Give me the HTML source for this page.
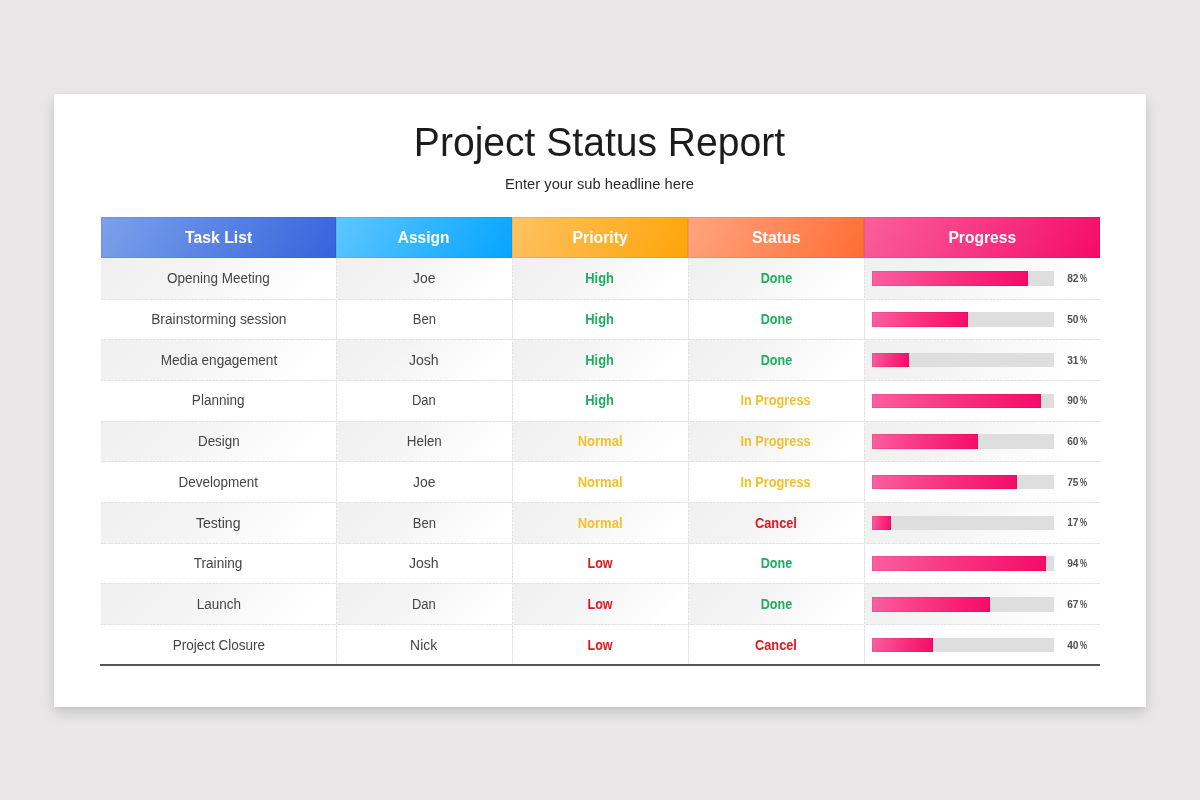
<!DOCTYPE html>
<html><head><meta charset="utf-8"><title>Project Status Report</title>
<style>
html,body{margin:0;padding:0;}
body{width:1200px;height:800px;overflow:hidden;background:#e9e7e7;font-family:"Liberation Sans",sans-serif;position:relative;}
.card{position:absolute;left:54px;top:94px;width:1092px;height:613px;background:#fff;box-shadow:0 6px 13px rgba(0,0,0,0.15),0 1px 3px rgba(0,0,0,0.05);}
.a{position:absolute;}
.c{position:absolute;text-align:center;white-space:nowrap;}
.t{display:inline-block;transform-origin:50% 50%;}
.h{color:#fff;font-weight:bold;font-size:17.2px;box-shadow:inset 0 0 0 1px rgba(0,0,40,0.07);}
.d{color:#454545;font-size:14px;}
.b{font-weight:bold;font-size:14px;}
.p{color:#505050;font-size:10.2px;font-weight:bold;text-align:left;}
.pc{display:inline-block;transform:scaleX(0.78);transform-origin:0 50%;margin-left:1.5px;}
.g{background:linear-gradient(135deg,#f0f0f0 0%,#f3f3f3 35%,#f8f8f8 55%,#ffffff 85%);}
.hl{height:1px;background:repeating-linear-gradient(90deg,#e0e0e0 0,#e0e0e0 2px,#f0f0f0 2px,#f0f0f0 3.5px);}
.vl{width:1px;background:repeating-linear-gradient(180deg,#e0e0e0 0,#e0e0e0 2px,#f0f0f0 2px,#f0f0f0 3.5px);}
.tr{background:#dedede;}
.fl{background:linear-gradient(100deg,#fb5fa0 0%,#f8327f 50%,#f50b68 100%);box-shadow:inset 0 0 0 1px rgba(150,0,50,0.10);}
</style></head><body>
<div class="card"></div>
<div id="L" style="position:absolute;left:0;top:0;width:1200px;height:800px;will-change:transform;">

<div class="c" style="left:298.4px;width:602.6px;top:116.8px;height:50px;line-height:50px;font-size:40.5px;color:#1c1c1c;"><span class="t" style="transform:scaleX(0.9643)">Project Status Report</span></div>
<div class="c" style="left:299.6px;width:599.4px;top:172px;height:24px;line-height:24px;font-size:15.5px;color:#2a2a2a;"><span class="t" style="transform:scaleX(0.9494)">Enter your sub headline here</span></div>
<div class="c h" style="left:101px;width:235.0px;top:217.3px;height:41.0px;line-height:41.0px;background:linear-gradient(120deg,#7ca1ea 0%,#5882e3 50%,#3564dc 100%);"><span class="t" style="transform:scaleX(0.9183);">Task List</span></div>
<div class="c h" style="left:336px;width:176.0px;top:217.3px;height:41.0px;line-height:41.0px;background:linear-gradient(120deg,#5fc6ff 0%,#32b5ff 50%,#06a4ff 100%);"><span class="t" style="transform:scaleX(0.9024);">Assign</span></div>
<div class="c h" style="left:512px;width:176.0px;top:217.3px;height:41.0px;line-height:41.0px;background:linear-gradient(120deg,#fdc364 0%,#feb336 50%,#ffa408 100%);"><span class="t" style="transform:scaleX(0.9182);">Priority</span></div>
<div class="c h" style="left:688px;width:176.0px;top:217.3px;height:41.0px;line-height:41.0px;background:linear-gradient(120deg,#ffa57f 0%,#ff8959 50%,#ff6d33 100%);"><span class="t" style="transform:scaleX(0.9221);">Status</span></div>
<div class="c h" style="left:864px;width:236.4px;top:217.3px;height:41.0px;line-height:41.0px;background:linear-gradient(120deg,#fa5f9c 0%,#f73683 50%,#f50b68 100%);"><span class="t" style="transform:scaleX(0.9080);">Progress</span></div>
<div class="a g" style="left:101px;width:235.0px;top:258.3px;height:40.7px;"></div>
<div class="a g" style="left:336px;width:176.0px;top:258.3px;height:40.7px;"></div>
<div class="a g" style="left:512px;width:176.0px;top:258.3px;height:40.7px;"></div>
<div class="a g" style="left:688px;width:176.0px;top:258.3px;height:40.7px;"></div>
<div class="a g" style="left:864px;width:236.4px;top:258.3px;height:40.7px;"></div>
<div class="c d" style="left:101px;width:235.0px;top:258.3px;height:40.7px;line-height:40.7px;"><span class="t" style="transform:scaleX(0.9638);">Opening Meeting</span></div>
<div class="c d" style="left:336px;width:176.0px;top:258.3px;height:40.7px;line-height:40.7px;"><span class="t" style="transform:scaleX(0.9952);">Joe</span></div>
<div class="c b" style="left:512px;width:176.0px;top:258.3px;height:40.7px;line-height:40.7px;color:#1fad5e;"><span class="t" style="transform:scaleX(0.9196);">High</span></div>
<div class="c b" style="left:688px;width:176.0px;top:258.3px;height:40.7px;line-height:40.7px;color:#1fad5e;"><span class="t" style="transform:scaleX(0.9000);">Done</span></div>
<div class="a tr" style="left:872px;width:181.8px;top:271.4px;height:14.6px;"></div>
<div class="a fl" style="left:872px;width:155.7px;top:271.4px;height:14.6px;"></div>
<div class="c p" style="left:1067.2px;width:40px;top:259.2px;height:40.7px;line-height:40.7px;">82<span class="pc">%</span></div>
<div class="c d" style="left:101px;width:235.0px;top:299.0px;height:40.7px;line-height:40.7px;"><span class="t" style="transform:scaleX(0.9826);">Brainstorming session</span></div>
<div class="c d" style="left:336px;width:176.0px;top:299.0px;height:40.7px;line-height:40.7px;"><span class="t" style="transform:scaleX(0.9304);">Ben</span></div>
<div class="c b" style="left:512px;width:176.0px;top:299.0px;height:40.7px;line-height:40.7px;color:#1fad5e;"><span class="t" style="transform:scaleX(0.9196);">High</span></div>
<div class="c b" style="left:688px;width:176.0px;top:299.0px;height:40.7px;line-height:40.7px;color:#1fad5e;"><span class="t" style="transform:scaleX(0.9000);">Done</span></div>
<div class="a tr" style="left:872px;width:181.8px;top:312.1px;height:14.6px;"></div>
<div class="a fl" style="left:872px;width:96.3px;top:312.1px;height:14.6px;"></div>
<div class="c p" style="left:1067.2px;width:40px;top:299.9px;height:40.7px;line-height:40.7px;">50<span class="pc">%</span></div>
<div class="a g" style="left:101px;width:235.0px;top:339.7px;height:40.7px;"></div>
<div class="a g" style="left:336px;width:176.0px;top:339.7px;height:40.7px;"></div>
<div class="a g" style="left:512px;width:176.0px;top:339.7px;height:40.7px;"></div>
<div class="a g" style="left:688px;width:176.0px;top:339.7px;height:40.7px;"></div>
<div class="a g" style="left:864px;width:236.4px;top:339.7px;height:40.7px;"></div>
<div class="c d" style="left:101px;width:235.0px;top:339.7px;height:40.7px;line-height:40.7px;"><span class="t" style="transform:scaleX(0.9723);">Media engagement</span></div>
<div class="c d" style="left:336px;width:176.0px;top:339.7px;height:40.7px;line-height:40.7px;"><span class="t" style="transform:scaleX(1.0063);">Josh</span></div>
<div class="c b" style="left:512px;width:176.0px;top:339.7px;height:40.7px;line-height:40.7px;color:#1fad5e;"><span class="t" style="transform:scaleX(0.9196);">High</span></div>
<div class="c b" style="left:688px;width:176.0px;top:339.7px;height:40.7px;line-height:40.7px;color:#1fad5e;"><span class="t" style="transform:scaleX(0.9000);">Done</span></div>
<div class="a tr" style="left:872px;width:181.8px;top:352.8px;height:14.6px;"></div>
<div class="a fl" style="left:872px;width:37.4px;top:352.8px;height:14.6px;"></div>
<div class="c p" style="left:1067.2px;width:40px;top:340.6px;height:40.7px;line-height:40.7px;">31<span class="pc">%</span></div>
<div class="c d" style="left:101px;width:235.0px;top:380.4px;height:40.7px;line-height:40.7px;"><span class="t" style="transform:scaleX(0.9682);">Planning</span></div>
<div class="c d" style="left:336px;width:176.0px;top:380.4px;height:40.7px;line-height:40.7px;"><span class="t" style="transform:scaleX(0.9276);">Dan</span></div>
<div class="c b" style="left:512px;width:176.0px;top:380.4px;height:40.7px;line-height:40.7px;color:#1fad5e;"><span class="t" style="transform:scaleX(0.9196);">High</span></div>
<div class="c b" style="left:688px;width:176.0px;top:380.4px;height:40.7px;line-height:40.7px;color:#f3c02b;"><span class="t" style="transform:scaleX(0.9105);">In Progress</span></div>
<div class="a tr" style="left:872px;width:181.8px;top:393.5px;height:14.6px;"></div>
<div class="a fl" style="left:872px;width:169.25px;top:393.5px;height:14.6px;"></div>
<div class="c p" style="left:1067.2px;width:40px;top:381.3px;height:40.7px;line-height:40.7px;">90<span class="pc">%</span></div>
<div class="a g" style="left:101px;width:235.0px;top:421.1px;height:40.7px;"></div>
<div class="a g" style="left:336px;width:176.0px;top:421.1px;height:40.7px;"></div>
<div class="a g" style="left:512px;width:176.0px;top:421.1px;height:40.7px;"></div>
<div class="a g" style="left:688px;width:176.0px;top:421.1px;height:40.7px;"></div>
<div class="a g" style="left:864px;width:236.4px;top:421.1px;height:40.7px;"></div>
<div class="c d" style="left:101px;width:235.0px;top:421.1px;height:40.7px;line-height:40.7px;"><span class="t" style="transform:scaleX(0.9548);">Design</span></div>
<div class="c d" style="left:336px;width:176.0px;top:421.1px;height:40.7px;line-height:40.7px;"><span class="t" style="transform:scaleX(0.9551);">Helen</span></div>
<div class="c b" style="left:512px;width:176.0px;top:421.1px;height:40.7px;line-height:40.7px;color:#f3c02b;"><span class="t" style="transform:scaleX(0.9313);">Normal</span></div>
<div class="c b" style="left:688px;width:176.0px;top:421.1px;height:40.7px;line-height:40.7px;color:#f3c02b;"><span class="t" style="transform:scaleX(0.9105);">In Progress</span></div>
<div class="a tr" style="left:872px;width:181.8px;top:434.2px;height:14.6px;"></div>
<div class="a fl" style="left:872px;width:105.7px;top:434.2px;height:14.6px;"></div>
<div class="c p" style="left:1067.2px;width:40px;top:422.0px;height:40.7px;line-height:40.7px;">60<span class="pc">%</span></div>
<div class="c d" style="left:101px;width:235.0px;top:461.8px;height:40.7px;line-height:40.7px;"><span class="t" style="transform:scaleX(0.9642);">Development</span></div>
<div class="c d" style="left:336px;width:176.0px;top:461.8px;height:40.7px;line-height:40.7px;"><span class="t" style="transform:scaleX(0.9952);">Joe</span></div>
<div class="c b" style="left:512px;width:176.0px;top:461.8px;height:40.7px;line-height:40.7px;color:#f3c02b;"><span class="t" style="transform:scaleX(0.9313);">Normal</span></div>
<div class="c b" style="left:688px;width:176.0px;top:461.8px;height:40.7px;line-height:40.7px;color:#f3c02b;"><span class="t" style="transform:scaleX(0.9105);">In Progress</span></div>
<div class="a tr" style="left:872px;width:181.8px;top:474.9px;height:14.6px;"></div>
<div class="a fl" style="left:872px;width:145.3px;top:474.9px;height:14.6px;"></div>
<div class="c p" style="left:1067.2px;width:40px;top:462.7px;height:40.7px;line-height:40.7px;">75<span class="pc">%</span></div>
<div class="a g" style="left:101px;width:235.0px;top:502.5px;height:40.7px;"></div>
<div class="a g" style="left:336px;width:176.0px;top:502.5px;height:40.7px;"></div>
<div class="a g" style="left:512px;width:176.0px;top:502.5px;height:40.7px;"></div>
<div class="a g" style="left:688px;width:176.0px;top:502.5px;height:40.7px;"></div>
<div class="a g" style="left:864px;width:236.4px;top:502.5px;height:40.7px;"></div>
<div class="c d" style="left:101px;width:235.0px;top:502.5px;height:40.7px;line-height:40.7px;"><span class="t" style="transform:scaleX(1.0053);">Testing</span></div>
<div class="c d" style="left:336px;width:176.0px;top:502.5px;height:40.7px;line-height:40.7px;"><span class="t" style="transform:scaleX(0.9304);">Ben</span></div>
<div class="c b" style="left:512px;width:176.0px;top:502.5px;height:40.7px;line-height:40.7px;color:#f3c02b;"><span class="t" style="transform:scaleX(0.9313);">Normal</span></div>
<div class="c b" style="left:688px;width:176.0px;top:502.5px;height:40.7px;line-height:40.7px;color:#de181e;"><span class="t" style="transform:scaleX(0.9118);">Cancel</span></div>
<div class="a tr" style="left:872px;width:181.8px;top:515.6px;height:14.6px;"></div>
<div class="a fl" style="left:872px;width:19.25px;top:515.6px;height:14.6px;"></div>
<div class="c p" style="left:1067.2px;width:40px;top:503.4px;height:40.7px;line-height:40.7px;">17<span class="pc">%</span></div>
<div class="c d" style="left:101px;width:235.0px;top:543.2px;height:40.7px;line-height:40.7px;"><span class="t" style="transform:scaleX(0.9716);">Training</span></div>
<div class="c d" style="left:336px;width:176.0px;top:543.2px;height:40.7px;line-height:40.7px;"><span class="t" style="transform:scaleX(1.0063);">Josh</span></div>
<div class="c b" style="left:512px;width:176.0px;top:543.2px;height:40.7px;line-height:40.7px;color:#de181e;"><span class="t" style="transform:scaleX(0.8945);">Low</span></div>
<div class="c b" style="left:688px;width:176.0px;top:543.2px;height:40.7px;line-height:40.7px;color:#1fad5e;"><span class="t" style="transform:scaleX(0.9000);">Done</span></div>
<div class="a tr" style="left:872px;width:181.8px;top:556.3px;height:14.6px;"></div>
<div class="a fl" style="left:872px;width:173.8px;top:556.3px;height:14.6px;"></div>
<div class="c p" style="left:1067.2px;width:40px;top:544.1px;height:40.7px;line-height:40.7px;">94<span class="pc">%</span></div>
<div class="a g" style="left:101px;width:235.0px;top:583.9px;height:40.7px;"></div>
<div class="a g" style="left:336px;width:176.0px;top:583.9px;height:40.7px;"></div>
<div class="a g" style="left:512px;width:176.0px;top:583.9px;height:40.7px;"></div>
<div class="a g" style="left:688px;width:176.0px;top:583.9px;height:40.7px;"></div>
<div class="a g" style="left:864px;width:236.4px;top:583.9px;height:40.7px;"></div>
<div class="c d" style="left:101px;width:235.0px;top:583.9px;height:40.7px;line-height:40.7px;"><span class="t" style="transform:scaleX(0.9653);">Launch</span></div>
<div class="c d" style="left:336px;width:176.0px;top:583.9px;height:40.7px;line-height:40.7px;"><span class="t" style="transform:scaleX(0.9276);">Dan</span></div>
<div class="c b" style="left:512px;width:176.0px;top:583.9px;height:40.7px;line-height:40.7px;color:#de181e;"><span class="t" style="transform:scaleX(0.8945);">Low</span></div>
<div class="c b" style="left:688px;width:176.0px;top:583.9px;height:40.7px;line-height:40.7px;color:#1fad5e;"><span class="t" style="transform:scaleX(0.9000);">Done</span></div>
<div class="a tr" style="left:872px;width:181.8px;top:597.0px;height:14.6px;"></div>
<div class="a fl" style="left:872px;width:118.2px;top:597.0px;height:14.6px;"></div>
<div class="c p" style="left:1067.2px;width:40px;top:584.8px;height:40.7px;line-height:40.7px;">67<span class="pc">%</span></div>
<div class="c d" style="left:101px;width:235.0px;top:624.6px;height:40.7px;line-height:40.7px;"><span class="t" style="transform:scaleX(0.9649);">Project Closure</span></div>
<div class="c d" style="left:336px;width:176.0px;top:624.6px;height:40.7px;line-height:40.7px;"><span class="t" style="transform:scaleX(0.9925);">Nick</span></div>
<div class="c b" style="left:512px;width:176.0px;top:624.6px;height:40.7px;line-height:40.7px;color:#de181e;"><span class="t" style="transform:scaleX(0.8945);">Low</span></div>
<div class="c b" style="left:688px;width:176.0px;top:624.6px;height:40.7px;line-height:40.7px;color:#de181e;"><span class="t" style="transform:scaleX(0.9118);">Cancel</span></div>
<div class="a tr" style="left:872px;width:181.8px;top:637.7px;height:14.6px;"></div>
<div class="a fl" style="left:872px;width:61.3px;top:637.7px;height:14.6px;"></div>
<div class="c p" style="left:1067.2px;width:40px;top:625.5px;height:40.7px;line-height:40.7px;">40<span class="pc">%</span></div>
<div class="a hl" style="left:101px;width:999px;top:298.5px;"></div>
<div class="a hl" style="left:101px;width:999px;top:339.2px;"></div>
<div class="a hl" style="left:101px;width:999px;top:379.9px;"></div>
<div class="a hl" style="left:101px;width:999px;top:420.6px;"></div>
<div class="a hl" style="left:101px;width:999px;top:461.3px;"></div>
<div class="a hl" style="left:101px;width:999px;top:502.0px;"></div>
<div class="a hl" style="left:101px;width:999px;top:542.7px;"></div>
<div class="a hl" style="left:101px;width:999px;top:583.4px;"></div>
<div class="a hl" style="left:101px;width:999px;top:624.1px;"></div>
<div class="a vl" style="left:335.5px;top:258.3px;height:407.0px;"></div>
<div class="a vl" style="left:511.5px;top:258.3px;height:407.0px;"></div>
<div class="a vl" style="left:687.5px;top:258.3px;height:407.0px;"></div>
<div class="a vl" style="left:863.5px;top:258.3px;height:407.0px;"></div>
<div class="a" style="left:100.4px;width:1000px;top:664.2px;height:2.3px;background:#555;"></div>
</div></body></html>
